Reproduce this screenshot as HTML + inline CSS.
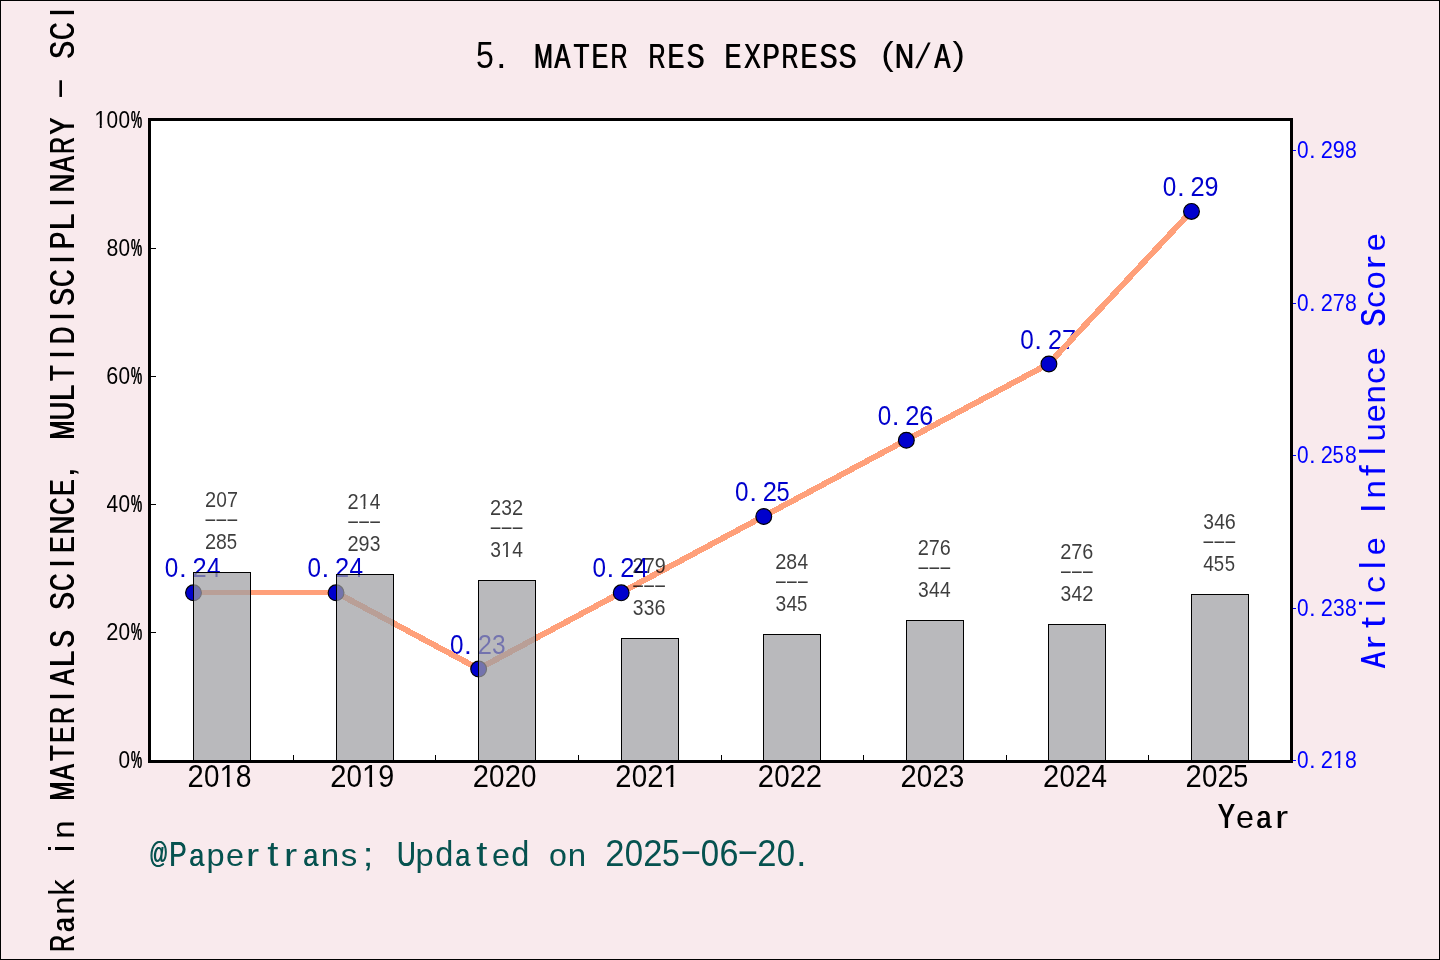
<!DOCTYPE html>
<html lang="en"><head><meta charset="utf-8"><title>5. MATER RES EXPRESS (N/A)</title>
<style>html,body{margin:0;padding:0;background:#F9EAED;overflow:hidden}svg{display:block;will-change:transform}text{font-family:"Liberation Sans",sans-serif;white-space:pre}</style></head>
<body>
<svg width="1440" height="960" viewBox="0 0 1440 960">
<defs><clipPath id="c1_22" clipPathUnits="userSpaceOnUse"><polygon points="0.88,-17.60 8.80,-17.60 8.80,-2.42 7.55,-2.42 7.55,0.66 5.48,0.66 5.48,-2.42 0.88,-2.42"/></clipPath><clipPath id="c1_24" clipPathUnits="userSpaceOnUse"><polygon points="0.96,-19.20 9.60,-19.20 9.60,-2.64 8.23,-2.64 8.23,0.72 5.98,0.72 5.98,-2.64 0.96,-2.64"/></clipPath><clipPath id="c1_32" clipPathUnits="userSpaceOnUse"><polygon points="1.28,-25.60 12.80,-25.60 12.80,-3.52 10.98,-3.52 10.98,0.96 7.97,0.96 7.97,-3.52 1.28,-3.52"/></clipPath></defs>
<rect x="0" y="0" width="1440" height="960" fill="#F9EAED"/>
<rect x="0.5" y="0.5" width="1439" height="959" fill="none" stroke="#000" stroke-width="1"/>
<rect x="149.5" y="119.5" width="1142" height="642" fill="#fff"/>
<g role="img" aria-label="0.24" font-size="28" fill="#0000CD"><text transform="translate(164.84 577.42) scale(0.868 0.975)">0</text><text transform="translate(178.91 577.42) scale(1.000 0.950)">.</text><text transform="translate(192.51 577.42) scale(0.911 0.975)">2</text><text transform="translate(206.88 577.42) scale(0.873 0.975)">4</text></g>
<g role="img" aria-label="0.24" font-size="28" fill="#0000CD"><text transform="translate(307.41 577.42) scale(0.868 0.975)">0</text><text transform="translate(321.48 577.42) scale(1.000 0.950)">.</text><text transform="translate(335.08 577.42) scale(0.911 0.975)">2</text><text transform="translate(349.45 577.42) scale(0.873 0.975)">4</text></g>
<g role="img" aria-label="0.23" font-size="28" fill="#0000CD"><text transform="translate(449.98 653.70) scale(0.868 0.975)">0</text><text transform="translate(464.05 653.70) scale(1.000 0.950)">.</text><text transform="translate(477.65 653.70) scale(0.911 0.975)">2</text><text transform="translate(492.00 653.70) scale(0.875 0.975)">3</text></g>
<g role="img" aria-label="0.24" font-size="28" fill="#0000CD"><text transform="translate(592.55 577.42) scale(0.868 0.975)">0</text><text transform="translate(606.62 577.42) scale(1.000 0.950)">.</text><text transform="translate(620.22 577.42) scale(0.911 0.975)">2</text><text transform="translate(634.59 577.42) scale(0.873 0.975)">4</text></g>
<g role="img" aria-label="0.25" font-size="28" fill="#0000CD"><text transform="translate(735.12 501.14) scale(0.868 0.975)">0</text><text transform="translate(749.19 501.14) scale(1.000 0.950)">.</text><text transform="translate(762.79 501.14) scale(0.911 0.975)">2</text><text transform="translate(776.49 501.14) scale(0.844 0.975)">5</text></g>
<g role="img" aria-label="0.26" font-size="28" fill="#0000CD"><text transform="translate(877.69 424.86) scale(0.868 0.975)">0</text><text transform="translate(891.76 424.86) scale(1.000 0.950)">.</text><text transform="translate(905.36 424.86) scale(0.911 0.975)">2</text><text transform="translate(919.36 424.86) scale(0.899 0.975)">6</text></g>
<g role="img" aria-label="0.27" font-size="28" fill="#0000CD"><text transform="translate(1020.26 348.58) scale(0.868 0.975)">0</text><text transform="translate(1034.33 348.58) scale(1.000 0.950)">.</text><text transform="translate(1047.93 348.58) scale(0.911 0.975)">2</text><text transform="translate(1061.99 348.58) scale(0.902 0.975)">7</text></g>
<g role="img" aria-label="0.29" font-size="28" fill="#0000CD"><text transform="translate(1162.83 196.02) scale(0.868 0.975)">0</text><text transform="translate(1176.90 196.02) scale(1.000 0.950)">.</text><text transform="translate(1190.50 196.02) scale(0.911 0.975)">2</text><text transform="translate(1204.60 196.02) scale(0.898 0.975)">9</text></g>
<polyline points="193.50,592.52 336.07,592.52 478.64,668.80 621.21,592.52 763.78,516.24 906.35,439.96 1048.92,363.68 1191.49,211.12" fill="none" stroke="#FFA07A" stroke-width="5.9" stroke-linejoin="round" stroke-linecap="butt" shape-rendering="crispEdges"/>
<circle cx="193.50" cy="592.82" r="7.9" fill="#0000CD" stroke="#000" stroke-width="1.15"/>
<circle cx="336.07" cy="592.82" r="7.9" fill="#0000CD" stroke="#000" stroke-width="1.15"/>
<circle cx="478.64" cy="669.10" r="7.9" fill="#0000CD" stroke="#000" stroke-width="1.15"/>
<circle cx="621.21" cy="592.82" r="7.9" fill="#0000CD" stroke="#000" stroke-width="1.15"/>
<circle cx="763.78" cy="516.54" r="7.9" fill="#0000CD" stroke="#000" stroke-width="1.15"/>
<circle cx="906.35" cy="440.26" r="7.9" fill="#0000CD" stroke="#000" stroke-width="1.15"/>
<circle cx="1048.92" cy="363.98" r="7.9" fill="#0000CD" stroke="#000" stroke-width="1.15"/>
<circle cx="1191.49" cy="211.42" r="7.9" fill="#0000CD" stroke="#000" stroke-width="1.15"/>
<rect x="193.5" y="572.5" width="57" height="188.5" fill="rgba(158,159,162,.725)" stroke="#000" stroke-width="1"/>
<rect x="336.5" y="574.5" width="57" height="186.5" fill="rgba(158,159,162,.725)" stroke="#000" stroke-width="1"/>
<rect x="478.5" y="580.5" width="57" height="180.5" fill="rgba(158,159,162,.725)" stroke="#000" stroke-width="1"/>
<rect x="621.5" y="638.5" width="57" height="122.5" fill="rgba(158,159,162,.725)" stroke="#000" stroke-width="1"/>
<rect x="763.5" y="634.5" width="57" height="126.5" fill="rgba(158,159,162,.725)" stroke="#000" stroke-width="1"/>
<rect x="906.5" y="620.5" width="57" height="140.5" fill="rgba(158,159,162,.725)" stroke="#000" stroke-width="1"/>
<rect x="1048.5" y="624.5" width="57" height="136.5" fill="rgba(158,159,162,.725)" stroke="#000" stroke-width="1"/>
<rect x="1191.5" y="594.5" width="57" height="166.5" fill="rgba(158,159,162,.725)" stroke="#000" stroke-width="1"/>
<g role="img" aria-label="207" font-size="22" fill="#000" fill-opacity=".76"><text transform="translate(204.88 506.50) scale(0.911 0.975)">2</text><text transform="translate(216.14 506.50) scale(0.868 0.975)">0</text><text transform="translate(226.92 506.50) scale(0.902 0.975)">7</text></g>
<g role="img" aria-label="---" font-size="22" fill="#000" fill-opacity=".76"><text transform="translate(203.85 526.01) scale(1.802 0.920)">-</text><text transform="translate(214.85 526.01) scale(1.802 0.920)">-</text><text transform="translate(225.85 526.01) scale(1.802 0.920)">-</text></g>
<g role="img" aria-label="285" font-size="22" fill="#000" fill-opacity=".76"><text transform="translate(204.88 548.50) scale(0.911 0.975)">2</text><text transform="translate(216.04 548.50) scale(0.884 0.975)">8</text><text transform="translate(226.65 548.50) scale(0.844 0.975)">5</text></g>
<g role="img" aria-label="214" font-size="22" fill="#000" fill-opacity=".76"><text transform="translate(347.45 508.50) scale(0.911 0.975)">2</text><text clip-path="url(#c1_22)" transform="translate(358.38 508.50) scale(0.924 0.975)">1</text><text transform="translate(369.74 508.50) scale(0.873 0.975)">4</text></g>
<g role="img" aria-label="---" font-size="22" fill="#000" fill-opacity=".76"><text transform="translate(346.42 528.01) scale(1.802 0.920)">-</text><text transform="translate(357.42 528.01) scale(1.802 0.920)">-</text><text transform="translate(368.42 528.01) scale(1.802 0.920)">-</text></g>
<g role="img" aria-label="293" font-size="22" fill="#000" fill-opacity=".76"><text transform="translate(347.45 550.50) scale(0.911 0.975)">2</text><text transform="translate(358.53 550.50) scale(0.898 0.975)">9</text><text transform="translate(369.72 550.50) scale(0.875 0.975)">3</text></g>
<g role="img" aria-label="232" font-size="22" fill="#000" fill-opacity=".76"><text transform="translate(490.02 514.50) scale(0.911 0.975)">2</text><text transform="translate(501.29 514.50) scale(0.875 0.975)">3</text><text transform="translate(512.02 514.50) scale(0.911 0.975)">2</text></g>
<g role="img" aria-label="---" font-size="22" fill="#000" fill-opacity=".76"><text transform="translate(488.99 534.01) scale(1.802 0.920)">-</text><text transform="translate(499.99 534.01) scale(1.802 0.920)">-</text><text transform="translate(510.99 534.01) scale(1.802 0.920)">-</text></g>
<g role="img" aria-label="314" font-size="22" fill="#000" fill-opacity=".76"><text transform="translate(490.29 556.50) scale(0.875 0.975)">3</text><text clip-path="url(#c1_22)" transform="translate(500.95 556.50) scale(0.924 0.975)">1</text><text transform="translate(512.31 556.50) scale(0.873 0.975)">4</text></g>
<g role="img" aria-label="279" font-size="22" fill="#000" fill-opacity=".76"><text transform="translate(632.59 572.50) scale(0.911 0.975)">2</text><text transform="translate(643.63 572.50) scale(0.902 0.975)">7</text><text transform="translate(654.67 572.50) scale(0.898 0.975)">9</text></g>
<g role="img" aria-label="---" font-size="22" fill="#000" fill-opacity=".76"><text transform="translate(631.56 592.01) scale(1.802 0.920)">-</text><text transform="translate(642.56 592.01) scale(1.802 0.920)">-</text><text transform="translate(653.56 592.01) scale(1.802 0.920)">-</text></g>
<g role="img" aria-label="336" font-size="22" fill="#000" fill-opacity=".76"><text transform="translate(632.86 614.50) scale(0.875 0.975)">3</text><text transform="translate(643.86 614.50) scale(0.875 0.975)">3</text><text transform="translate(654.59 614.50) scale(0.899 0.975)">6</text></g>
<g role="img" aria-label="284" font-size="22" fill="#000" fill-opacity=".76"><text transform="translate(775.16 568.50) scale(0.911 0.975)">2</text><text transform="translate(786.32 568.50) scale(0.884 0.975)">8</text><text transform="translate(797.45 568.50) scale(0.873 0.975)">4</text></g>
<g role="img" aria-label="---" font-size="22" fill="#000" fill-opacity=".76"><text transform="translate(774.13 588.01) scale(1.802 0.920)">-</text><text transform="translate(785.13 588.01) scale(1.802 0.920)">-</text><text transform="translate(796.13 588.01) scale(1.802 0.920)">-</text></g>
<g role="img" aria-label="345" font-size="22" fill="#000" fill-opacity=".76"><text transform="translate(775.43 610.50) scale(0.875 0.975)">3</text><text transform="translate(786.45 610.50) scale(0.873 0.975)">4</text><text transform="translate(796.93 610.50) scale(0.844 0.975)">5</text></g>
<g role="img" aria-label="276" font-size="22" fill="#000" fill-opacity=".76"><text transform="translate(917.73 554.50) scale(0.911 0.975)">2</text><text transform="translate(928.77 554.50) scale(0.902 0.975)">7</text><text transform="translate(939.73 554.50) scale(0.899 0.975)">6</text></g>
<g role="img" aria-label="---" font-size="22" fill="#000" fill-opacity=".76"><text transform="translate(916.70 574.01) scale(1.802 0.920)">-</text><text transform="translate(927.70 574.01) scale(1.802 0.920)">-</text><text transform="translate(938.70 574.01) scale(1.802 0.920)">-</text></g>
<g role="img" aria-label="344" font-size="22" fill="#000" fill-opacity=".76"><text transform="translate(918.00 596.50) scale(0.875 0.975)">3</text><text transform="translate(929.02 596.50) scale(0.873 0.975)">4</text><text transform="translate(940.02 596.50) scale(0.873 0.975)">4</text></g>
<g role="img" aria-label="276" font-size="22" fill="#000" fill-opacity=".76"><text transform="translate(1060.30 558.50) scale(0.911 0.975)">2</text><text transform="translate(1071.34 558.50) scale(0.902 0.975)">7</text><text transform="translate(1082.30 558.50) scale(0.899 0.975)">6</text></g>
<g role="img" aria-label="---" font-size="22" fill="#000" fill-opacity=".76"><text transform="translate(1059.27 578.01) scale(1.802 0.920)">-</text><text transform="translate(1070.27 578.01) scale(1.802 0.920)">-</text><text transform="translate(1081.27 578.01) scale(1.802 0.920)">-</text></g>
<g role="img" aria-label="342" font-size="22" fill="#000" fill-opacity=".76"><text transform="translate(1060.57 600.50) scale(0.875 0.975)">3</text><text transform="translate(1071.59 600.50) scale(0.873 0.975)">4</text><text transform="translate(1082.30 600.50) scale(0.911 0.975)">2</text></g>
<g role="img" aria-label="346" font-size="22" fill="#000" fill-opacity=".76"><text transform="translate(1203.14 528.50) scale(0.875 0.975)">3</text><text transform="translate(1214.16 528.50) scale(0.873 0.975)">4</text><text transform="translate(1224.87 528.50) scale(0.899 0.975)">6</text></g>
<g role="img" aria-label="---" font-size="22" fill="#000" fill-opacity=".76"><text transform="translate(1201.84 548.01) scale(1.802 0.920)">-</text><text transform="translate(1212.84 548.01) scale(1.802 0.920)">-</text><text transform="translate(1223.84 548.01) scale(1.802 0.920)">-</text></g>
<g role="img" aria-label="455" font-size="22" fill="#000" fill-opacity=".76"><text transform="translate(1203.16 570.50) scale(0.873 0.975)">4</text><text transform="translate(1213.64 570.50) scale(0.844 0.975)">5</text><text transform="translate(1224.64 570.50) scale(0.844 0.975)">5</text></g>
<rect x="151" y="248" width="5" height="1" fill="#000"/>
<rect x="151" y="376" width="5" height="1" fill="#000"/>
<rect x="151" y="504" width="5" height="1" fill="#000"/>
<rect x="151" y="632" width="5" height="1" fill="#000"/>
<rect x="293" y="755" width="1" height="5" fill="#000"/>
<rect x="435" y="755" width="1" height="5" fill="#000"/>
<rect x="578" y="755" width="1" height="5" fill="#000"/>
<rect x="721" y="755" width="1" height="5" fill="#000"/>
<rect x="863" y="755" width="1" height="5" fill="#000"/>
<rect x="1006" y="755" width="1" height="5" fill="#000"/>
<rect x="1148" y="755" width="1" height="5" fill="#000"/>
<rect x="1293" y="150" width="3" height="1" fill="#00F"/>
<rect x="1293" y="303" width="3" height="1" fill="#00F"/>
<rect x="1293" y="455" width="3" height="1" fill="#00F"/>
<rect x="1293" y="608" width="3" height="1" fill="#00F"/>
<rect x="1293" y="760" width="3" height="1" fill="#00F"/>
<rect x="149.5" y="119.5" width="1142" height="642" fill="none" stroke="#000" stroke-width="3"/>
<g role="img" aria-label="100%" font-size="24" fill="#000"><g id="b1"><text transform="translate(130.78 127.65) scale(0.517 0.975)">%</text></g><use href="#b1" x="0.53"/><text clip-path="url(#c1_24)" transform="translate(94.15 127.65) scale(0.924 0.975)">1</text><text transform="translate(106.51 127.65) scale(0.868 0.975)">0</text><text transform="translate(118.51 127.65) scale(0.868 0.975)">0</text></g>
<g role="img" aria-label="80%" font-size="24" fill="#000"><g id="b2"><text transform="translate(130.78 255.65) scale(0.517 0.975)">%</text></g><use href="#b2" x="0.53"/><text transform="translate(106.40 255.65) scale(0.884 0.975)">8</text><text transform="translate(118.51 255.65) scale(0.868 0.975)">0</text></g>
<g role="img" aria-label="60%" font-size="24" fill="#000"><g id="b3"><text transform="translate(130.78 383.65) scale(0.517 0.975)">%</text></g><use href="#b3" x="0.53"/><text transform="translate(106.22 383.65) scale(0.899 0.975)">6</text><text transform="translate(118.51 383.65) scale(0.868 0.975)">0</text></g>
<g role="img" aria-label="40%" font-size="24" fill="#000"><g id="b4"><text transform="translate(130.78 511.65) scale(0.517 0.975)">%</text></g><use href="#b4" x="0.53"/><text transform="translate(106.54 511.65) scale(0.873 0.975)">4</text><text transform="translate(118.51 511.65) scale(0.868 0.975)">0</text></g>
<g role="img" aria-label="20%" font-size="24" fill="#000"><g id="b5"><text transform="translate(130.78 639.65) scale(0.517 0.975)">%</text></g><use href="#b5" x="0.53"/><text transform="translate(106.22 639.65) scale(0.911 0.975)">2</text><text transform="translate(118.51 639.65) scale(0.868 0.975)">0</text></g>
<g role="img" aria-label="0%" font-size="24" fill="#000"><g id="b6"><text transform="translate(130.78 767.65) scale(0.517 0.975)">%</text></g><use href="#b6" x="0.53"/><text transform="translate(118.51 767.65) scale(0.868 0.975)">0</text></g>
<g role="img" aria-label="0.298" font-size="24" fill="#00F"><text transform="translate(1297.01 157.65) scale(0.868 0.975)">0</text><text transform="translate(1309.07 157.65) scale(1.000 0.950)">.</text><text transform="translate(1320.72 157.65) scale(0.911 0.975)">2</text><text transform="translate(1332.81 157.65) scale(0.898 0.975)">9</text><text transform="translate(1344.90 157.65) scale(0.884 0.975)">8</text></g>
<g role="img" aria-label="0.278" font-size="24" fill="#00F"><text transform="translate(1297.01 310.65) scale(0.868 0.975)">0</text><text transform="translate(1309.07 310.65) scale(1.000 0.950)">.</text><text transform="translate(1320.72 310.65) scale(0.911 0.975)">2</text><text transform="translate(1332.77 310.65) scale(0.902 0.975)">7</text><text transform="translate(1344.90 310.65) scale(0.884 0.975)">8</text></g>
<g role="img" aria-label="0.258" font-size="24" fill="#00F"><text transform="translate(1297.01 462.65) scale(0.868 0.975)">0</text><text transform="translate(1309.07 462.65) scale(1.000 0.950)">.</text><text transform="translate(1320.72 462.65) scale(0.911 0.975)">2</text><text transform="translate(1332.47 462.65) scale(0.844 0.975)">5</text><text transform="translate(1344.90 462.65) scale(0.884 0.975)">8</text></g>
<g role="img" aria-label="0.238" font-size="24" fill="#00F"><text transform="translate(1297.01 615.65) scale(0.868 0.975)">0</text><text transform="translate(1309.07 615.65) scale(1.000 0.950)">.</text><text transform="translate(1320.72 615.65) scale(0.911 0.975)">2</text><text transform="translate(1333.02 615.65) scale(0.875 0.975)">3</text><text transform="translate(1344.90 615.65) scale(0.884 0.975)">8</text></g>
<g role="img" aria-label="0.218" font-size="24" fill="#00F"><text transform="translate(1297.01 767.65) scale(0.868 0.975)">0</text><text transform="translate(1309.07 767.65) scale(1.000 0.950)">.</text><text transform="translate(1320.72 767.65) scale(0.911 0.975)">2</text><text clip-path="url(#c1_24)" transform="translate(1332.65 767.65) scale(0.924 0.975)">1</text><text transform="translate(1344.90 767.65) scale(0.884 0.975)">8</text></g>
<g role="img" aria-label="2018" font-size="32" fill="#000"><text transform="translate(187.59 787.40) scale(0.911 0.975)">2</text><text transform="translate(203.97 787.40) scale(0.868 0.975)">0</text><text clip-path="url(#c1_32)" transform="translate(219.50 787.40) scale(0.924 0.975)">1</text><text transform="translate(235.83 787.40) scale(0.884 0.975)">8</text></g>
<g role="img" aria-label="2019" font-size="32" fill="#000"><text transform="translate(330.16 787.40) scale(0.911 0.975)">2</text><text transform="translate(346.54 787.40) scale(0.868 0.975)">0</text><text clip-path="url(#c1_32)" transform="translate(362.07 787.40) scale(0.924 0.975)">1</text><text transform="translate(378.28 787.40) scale(0.898 0.975)">9</text></g>
<g role="img" aria-label="2020" font-size="32" fill="#000"><text transform="translate(472.73 787.40) scale(0.911 0.975)">2</text><text transform="translate(489.11 787.40) scale(0.868 0.975)">0</text><text transform="translate(504.73 787.40) scale(0.911 0.975)">2</text><text transform="translate(521.11 787.40) scale(0.868 0.975)">0</text></g>
<g role="img" aria-label="2021" font-size="32" fill="#000"><text transform="translate(615.30 787.40) scale(0.911 0.975)">2</text><text transform="translate(631.68 787.40) scale(0.868 0.975)">0</text><text transform="translate(647.30 787.40) scale(0.911 0.975)">2</text><text clip-path="url(#c1_32)" transform="translate(663.21 787.40) scale(0.924 0.975)">1</text></g>
<g role="img" aria-label="2022" font-size="32" fill="#000"><text transform="translate(757.87 787.40) scale(0.911 0.975)">2</text><text transform="translate(774.25 787.40) scale(0.868 0.975)">0</text><text transform="translate(789.87 787.40) scale(0.911 0.975)">2</text><text transform="translate(805.87 787.40) scale(0.911 0.975)">2</text></g>
<g role="img" aria-label="2023" font-size="32" fill="#000"><text transform="translate(900.44 787.40) scale(0.911 0.975)">2</text><text transform="translate(916.82 787.40) scale(0.868 0.975)">0</text><text transform="translate(932.44 787.40) scale(0.911 0.975)">2</text><text transform="translate(948.84 787.40) scale(0.875 0.975)">3</text></g>
<g role="img" aria-label="2024" font-size="32" fill="#000"><text transform="translate(1043.01 787.40) scale(0.911 0.975)">2</text><text transform="translate(1059.39 787.40) scale(0.868 0.975)">0</text><text transform="translate(1075.01 787.40) scale(0.911 0.975)">2</text><text transform="translate(1091.44 787.40) scale(0.873 0.975)">4</text></g>
<g role="img" aria-label="2025" font-size="32" fill="#000"><text transform="translate(1185.58 787.40) scale(0.911 0.975)">2</text><text transform="translate(1201.96 787.40) scale(0.868 0.975)">0</text><text transform="translate(1217.58 787.40) scale(0.911 0.975)">2</text><text transform="translate(1233.25 787.40) scale(0.844 0.975)">5</text></g>
<g role="img" aria-label="5. MATER RES EXPRESS (N/A)" font-size="38" fill="#000"><g id="b7"><text transform="translate(533.77 68.20) scale(0.583 0.940)">M</text><text transform="translate(554.07 68.20) scale(0.626 0.940)">A</text><text transform="translate(573.14 68.20) scale(0.677 0.940)">T</text><text transform="translate(591.34 68.20) scale(0.646 0.940)">E</text><text transform="translate(610.15 68.20) scale(0.615 0.940)">R</text><text transform="translate(648.15 68.20) scale(0.615 0.940)">R</text><text transform="translate(667.34 68.20) scale(0.646 0.940)">E</text><text transform="translate(686.20 68.20) scale(0.695 0.940)">S</text><text transform="translate(724.34 68.20) scale(0.646 0.940)">E</text><text transform="translate(743.65 68.20) scale(0.658 0.940)">X</text><text transform="translate(762.05 68.20) scale(0.676 0.940)">P</text><text transform="translate(781.15 68.20) scale(0.615 0.940)">R</text><text transform="translate(800.34 68.20) scale(0.646 0.940)">E</text><text transform="translate(819.20 68.20) scale(0.695 0.940)">S</text><text transform="translate(838.20 68.20) scale(0.695 0.940)">S</text><text transform="translate(894.54 68.20) scale(0.689 0.940)">N</text><text transform="translate(934.07 68.20) scale(0.626 0.940)">A</text></g><use href="#b7" x="0.95"/><text transform="translate(475.98 68.20) scale(0.844 0.950)">5</text><text transform="translate(495.92 68.20) scale(1.000 0.950)">.</text><text transform="translate(881.36 64.97) scale(0.981 0.880)">(</text><text transform="translate(915.33 68.20) skewX(-13) scale(0.900 0.930)">/</text><text transform="translate(952.42 64.97) scale(0.981 0.880)">)</text></g>
<g role="img" aria-label="Year" font-size="38" fill="#000"><g id="b8"><text transform="translate(1217.56 828.20) scale(0.666 0.940)">Y</text><text transform="translate(1256.03 828.20) scale(0.701 0.820)">a</text></g><use href="#b8" x="0.95"/><text transform="translate(1236.02 828.20) scale(0.852 0.820)">e</text><text transform="translate(1275.06 828.20) scale(1.040 0.820)">r</text></g>
<g role="img" aria-label="@Papertrans; Updated on 2025-06-20." font-size="38" fill="#06524F"><g id="b9"><text transform="translate(148.97 863.07) scale(0.484 0.780)">@</text><text transform="translate(168.89 866.30) scale(0.689 0.940)">P</text><text transform="translate(188.88 866.30) scale(0.714 0.820)">a</text><text transform="translate(302.88 866.30) scale(0.714 0.820)">a</text><text transform="translate(396.66 866.30) scale(0.681 0.940)">U</text><text transform="translate(454.88 866.30) scale(0.714 0.820)">a</text></g><use href="#b9" x="0.70"/><text transform="translate(206.59 866.30) scale(0.856 0.820)">p</text><text transform="translate(226.02 866.30) scale(0.852 0.820)">e</text><text transform="translate(246.06 866.30) scale(1.040 0.820)">r</text><text transform="translate(267.26 866.30) scale(1.057 0.910)">t</text><text transform="translate(284.06 866.30) scale(1.040 0.820)">r</text><text transform="translate(320.77 866.30) scale(0.871 0.820)">n</text><text transform="translate(340.86 866.30) scale(0.871 0.820)">s</text><text transform="translate(362.72 866.30) scale(1.000 0.870)">;</text><text transform="translate(415.59 866.30) scale(0.856 0.820)">p</text><text transform="translate(435.32 866.30) scale(0.856 0.910)">d</text><text transform="translate(476.26 866.30) scale(1.057 0.910)">t</text><text transform="translate(492.02 866.30) scale(0.852 0.820)">e</text><text transform="translate(511.32 866.30) scale(0.856 0.910)">d</text><text transform="translate(549.05 866.30) scale(0.847 0.820)">o</text><text transform="translate(567.77 866.30) scale(0.871 0.820)">n</text><text transform="translate(605.37 866.30) scale(0.911 0.950)">2</text><text transform="translate(624.83 866.30) scale(0.868 0.950)">0</text><text transform="translate(643.37 866.30) scale(0.911 0.950)">2</text><text transform="translate(661.98 866.30) scale(0.844 0.950)">5</text><text transform="translate(679.60 862.31) scale(1.802 0.850)">-</text><text transform="translate(700.83 866.30) scale(0.868 0.950)">0</text><text transform="translate(719.38 866.30) scale(0.899 0.950)">6</text><text transform="translate(736.60 862.31) scale(1.802 0.850)">-</text><text transform="translate(757.37 866.30) scale(0.911 0.950)">2</text><text transform="translate(776.83 866.30) scale(0.868 0.950)">0</text><text transform="translate(795.92 866.30) scale(1.000 0.950)">.</text></g>
<g transform="translate(74 953) rotate(-90)">
<g role="img" aria-label="Rank in MATERIALS SCIENCE, MULTIDISCIPLINARY - SCI" font-size="38" fill="#000"><g id="b10"><text transform="translate(0.65 0.00) scale(0.615 0.940)">R</text><text transform="translate(20.53 0.00) scale(0.701 0.820)">a</text><text transform="translate(152.27 0.00) scale(0.583 0.940)">M</text><text transform="translate(172.57 0.00) scale(0.626 0.940)">A</text><text transform="translate(191.64 0.00) scale(0.677 0.940)">T</text><text transform="translate(209.84 0.00) scale(0.646 0.940)">E</text><text transform="translate(228.65 0.00) scale(0.615 0.940)">R</text><text transform="translate(267.57 0.00) scale(0.626 0.940)">A</text><text transform="translate(285.77 0.00) scale(0.760 0.940)">L</text><text transform="translate(304.70 0.00) scale(0.695 0.940)">S</text><text transform="translate(342.70 0.00) scale(0.695 0.940)">S</text><text transform="translate(361.79 0.00) scale(0.624 0.940)">C</text><text transform="translate(399.84 0.00) scale(0.646 0.940)">E</text><text transform="translate(418.04 0.00) scale(0.689 0.940)">N</text><text transform="translate(437.79 0.00) scale(0.624 0.940)">C</text><text transform="translate(456.84 0.00) scale(0.646 0.940)">E</text><text transform="translate(513.27 0.00) scale(0.583 0.940)">M</text><text transform="translate(532.32 0.00) scale(0.669 0.940)">U</text><text transform="translate(551.77 0.00) scale(0.760 0.940)">L</text><text transform="translate(571.64 0.00) scale(0.677 0.940)">T</text><text transform="translate(608.40 0.00) scale(0.633 0.940)">D</text><text transform="translate(646.70 0.00) scale(0.695 0.940)">S</text><text transform="translate(665.79 0.00) scale(0.624 0.940)">C</text><text transform="translate(703.55 0.00) scale(0.676 0.940)">P</text><text transform="translate(722.77 0.00) scale(0.760 0.940)">L</text><text transform="translate(760.04 0.00) scale(0.689 0.940)">N</text><text transform="translate(780.57 0.00) scale(0.626 0.940)">A</text><text transform="translate(798.65 0.00) scale(0.615 0.940)">R</text><text transform="translate(818.06 0.00) scale(0.666 0.940)">Y</text><text transform="translate(893.70 0.00) scale(0.695 0.940)">S</text><text transform="translate(912.79 0.00) scale(0.624 0.940)">C</text></g><use href="#b10" x="0.95"/><text transform="translate(38.27 0.00) scale(0.871 0.820)">n</text><text transform="translate(57.16 0.00) scale(0.864 0.910)">k</text><text transform="translate(100.50 0.00) scale(0.950 0.910)">i</text><text transform="translate(114.27 0.00) scale(0.871 0.820)">n</text><text transform="translate(251.49 0.00) scale(0.950 0.940)">I</text><text transform="translate(384.49 0.00) scale(0.950 0.940)">I</text><text transform="translate(475.42 0.00) scale(1.000 0.950)">,</text><text transform="translate(593.49 0.00) scale(0.950 0.940)">I</text><text transform="translate(631.49 0.00) scale(0.950 0.940)">I</text><text transform="translate(688.49 0.00) scale(0.950 0.940)">I</text><text transform="translate(745.49 0.00) scale(0.950 0.940)">I</text><text transform="translate(853.10 -3.99) scale(1.802 0.850)">-</text><text transform="translate(935.49 0.00) scale(0.950 0.940)">I</text></g>
</g>
<g transform="translate(1385 669.75) rotate(-90)">
<g role="img" aria-label="Article Influence Score" font-size="38" fill="#00F"><g id="b11"><text transform="translate(1.57 0.00) scale(0.626 0.940)">A</text><text transform="translate(342.70 0.00) scale(0.695 0.940)">S</text></g><use href="#b11" x="0.95"/><text transform="translate(20.56 0.00) scale(1.040 0.820)">r</text><text transform="translate(41.76 0.00) scale(1.057 0.910)">t</text><text transform="translate(62.50 0.00) scale(0.950 0.910)">i</text><text transform="translate(76.74 0.00) scale(0.893 0.820)">c</text><text transform="translate(100.48 0.00) scale(0.950 0.910)">l</text><text transform="translate(114.52 0.00) scale(0.852 0.820)">e</text><text transform="translate(156.49 0.00) scale(0.950 0.940)">I</text><text transform="translate(171.27 0.00) scale(0.871 0.820)">n</text><text transform="translate(193.82 0.00) scale(1.018 0.910)">f</text><text transform="translate(214.48 0.00) scale(0.950 0.910)">l</text><text transform="translate(228.32 0.00) scale(0.871 0.820)">u</text><text transform="translate(247.52 0.00) scale(0.852 0.820)">e</text><text transform="translate(266.27 0.00) scale(0.871 0.820)">n</text><text transform="translate(285.74 0.00) scale(0.893 0.820)">c</text><text transform="translate(304.52 0.00) scale(0.852 0.820)">e</text><text transform="translate(361.74 0.00) scale(0.893 0.820)">c</text><text transform="translate(380.55 0.00) scale(0.847 0.820)">o</text><text transform="translate(400.56 0.00) scale(1.040 0.820)">r</text><text transform="translate(418.52 0.00) scale(0.852 0.820)">e</text></g>
</g>
</svg>
</body></html>
